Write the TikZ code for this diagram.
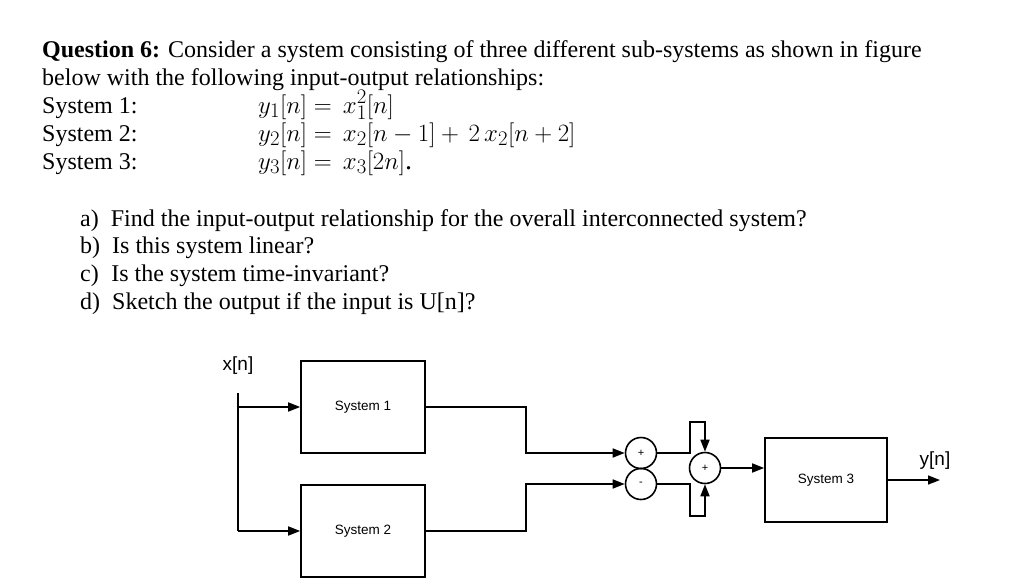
\documentclass[tikz,border=0pt]{standalone}
\usepackage{fontspec}
\setmainfont{Liberation Serif}
\setsansfont{Liberation Sans}
\usetikzlibrary{arrows.meta}
\begin{document}
\begin{tikzpicture}[x=1pt,y=-1pt,
  txt/.style={anchor=base west,inner sep=0,font=\fontsize{24}{26}\selectfont},
  eq/.style={anchor=base west,inner sep=0,font=\fontsize{28}{30}\selectfont},
  blk/.style={draw,line width=1.6pt,minimum width=124pt,minimum height=92pt,font=\sffamily\fontsize{13.5}{15}\selectfont},
  sumc/.style={draw,circle,line width=1.6pt,minimum size=31pt,inner sep=0,font=\sffamily\fontsize{11}{12}\selectfont},
  wire/.style={line width=1.6pt},
  arr/.style={line width=1.6pt,-{Triangle[length=12pt,width=9pt]}}]
\useasboundingbox (0,0) rectangle (1026,579);
\node[txt] (t1) at (42,57) {\textbf{Question 6:} Consider a system consisting of three different sub-systems as shown in figure};
\node[txt] (t2) at (42,85) {below with the following input-output relationships:};
\node[txt] (s1) at (42,113) {System 1:};
\node[txt] (s2) at (42,141) {System 2:};
\node[txt] (s3) at (42,169) {System 3:};
\node[eq] (e1) at (258,113) {$y_1[n]=\,x_1^2[n]$};
\node[eq] (e2) at (258,141) {$y_2[n]=\,x_2[n-1]+\,2\,x_2[n+2]$};
\node[eq] (e3) at (258,169) {$y_3[n]=\,x_3[2n]$.};
\node[txt] (qa) at (80,226) {a)\hspace{12pt}Find the input-output relationship for the overall interconnected system?};
\node[txt] (qb) at (80,253) {b)\hspace{12pt}Is this system linear?};
\node[txt] (qc) at (80,281) {c)\hspace{12.5pt}Is the system time-invariant?};
\node[txt] (qd) at (80,309) {d)\hspace{12pt}Sketch the output if the input is U[n]?};

\node[font=\sffamily\fontsize{19}{20}\selectfont] (xn) at (238,366) {x[n]};
\node[blk] (b1) at (363,407) {System 1};
\node[blk] (b2) at (363,531) {System 2};
\node[blk,minimum width=122pt,minimum height=84pt] (b3) at (826,480) {System 3};
\node[sumc] (c1) at (641,453) {+};
\node[sumc] (c2) at (641,484) {-};
\node[sumc] (c3) at (705,468) {+};
\node[font=\sffamily\fontsize{19}{20}\selectfont] (yn) at (935,461) {y[n]};
\coordinate (top) at (238,393);
\coordinate (out) at (940,480);

\draw[wire] (top) -- (238,531);
\draw[arr] (238,407) -- (b1.west);
\draw[arr] (238,531) -- (b2.west);
\draw[arr] (b1.east) -- (526,407) |- (c1.west);
\draw[arr] (b2.east) -- (526,531) |- (c2.west);
\draw[arr] (c1.east) -- (690,453) -- (690,422) -- (705,422) -- (c3.north);
\draw[arr] (c2.east) -- (690,484) -- (690,516) -- (705,516) -- (c3.south);
\draw[arr] (c3.east) -- (c3.east -| b3.west);
\draw[arr] (b3.east) -- (out);
\end{tikzpicture}
\end{document}
